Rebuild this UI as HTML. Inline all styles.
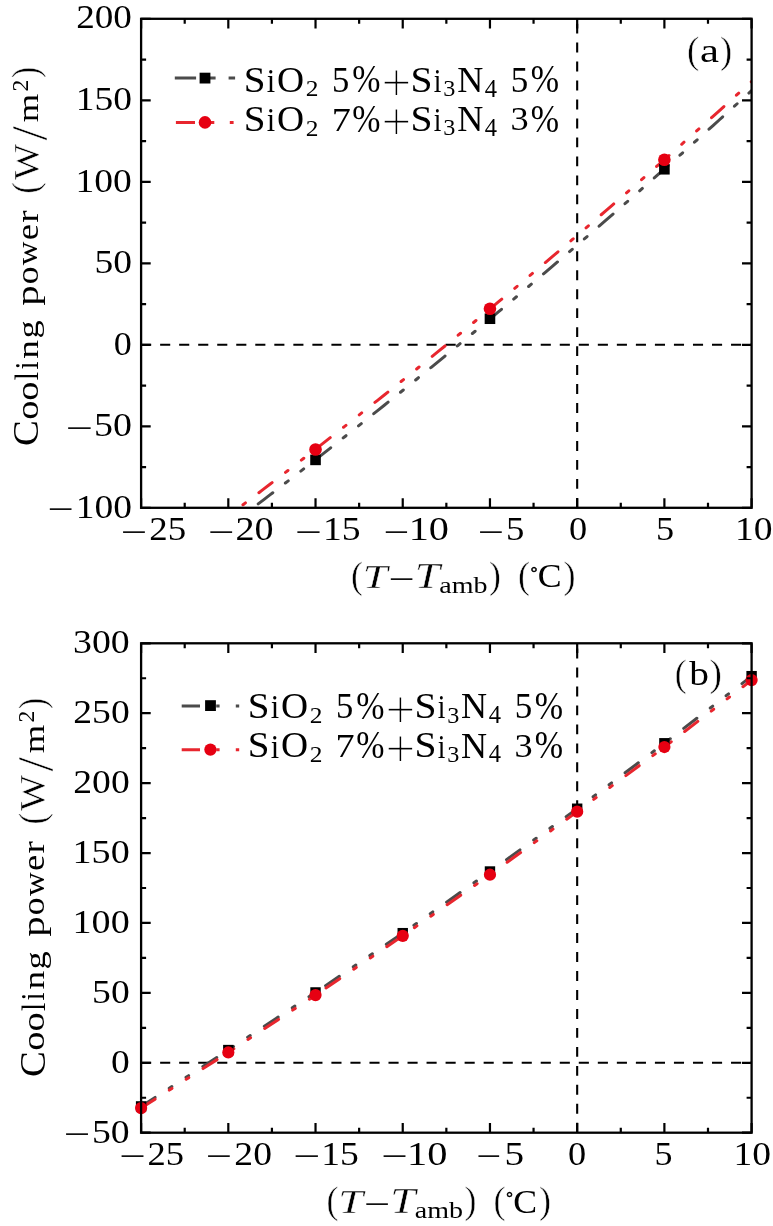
<!DOCTYPE html><html><head><meta charset="utf-8"><title>Cooling power vs T-Tamb</title><style>html,body{margin:0;padding:0;background:#fff;}svg{display:block;}text{white-space:pre;font-kerning:none;}</style></head><body>
<svg width="773" height="1226" viewBox="0 0 773 1226" font-family='"Liberation Serif", "DejaVu Serif", serif'>
<rect width="773" height="1226" fill="#fff"/>
<defs><clipPath id="ca"><rect x="141.1" y="18.8" width="610.50" height="489.00"/></clipPath></defs>
<path d="M141.1 344.80H751.6" stroke="#000" stroke-width="2.1" stroke-dasharray="10.1 8.93" fill="none"/><path d="M577.17 507.8V18.8" stroke="#000" stroke-width="2.1" stroke-dasharray="9.9 9.07" fill="none"/>
<g clip-path="url(#ca)" fill="none" stroke-width="3.0" stroke-linecap="round"><path d="M230.00 525.30L236.71 520.23L243.42 515.15L250.13 510.05L256.84 504.94L263.54 499.82L270.25 494.68L276.96 489.53L283.67 484.36L290.38 479.19L297.09 473.99L303.80 468.79L310.51 463.57L317.22 458.34L323.92 453.09L330.63 447.83L337.34 442.56L344.05 437.27L350.76 431.97L357.47 426.65L364.18 421.33L370.89 415.98L377.59 410.63L384.30 405.26L391.01 399.88L397.72 394.48L404.43 389.07L411.14 383.65L417.85 378.21L424.56 372.76L431.27 367.30L437.97 361.82L444.68 356.33L451.39 350.83L458.10 345.31L464.81 339.78L471.52 334.23L478.23 328.67L484.94 323.10L491.65 317.51L498.35 311.91L505.06 306.30L511.77 300.67L518.48 295.03L525.19 289.38L531.90 283.71L538.61 278.03L545.32 272.33L552.03 266.62L558.73 260.90L565.44 255.16L572.15 249.41L578.86 243.65L585.57 237.87L592.28 232.08L598.99 226.28L605.70 220.46L612.41 214.63L619.11 208.79L625.82 202.93L632.53 197.06L639.24 191.17L645.95 185.27L652.66 179.36L659.37 173.43L666.08 167.49L672.78 161.54L679.49 155.57L686.20 149.59L692.91 143.60L699.62 137.59L706.33 131.57L713.04 125.53L719.75 119.49L726.46 113.42L733.16 107.35L739.87 101.26L746.58 95.15L753.29 89.04L760.00 82.91" stroke="#4b4b4b" stroke-dasharray="18.4 15.9 3.6 15.9 3.6 15.9" stroke-dashoffset="37.91"/><path d="M230.00 514.55L236.71 509.50L243.42 504.44L250.13 499.36L256.84 494.27L263.54 489.16L270.25 484.05L276.96 478.91L283.67 473.77L290.38 468.61L297.09 463.44L303.80 458.25L310.51 453.05L317.22 447.84L323.92 442.61L330.63 437.37L337.34 432.12L344.05 426.85L350.76 421.57L357.47 416.28L364.18 410.97L370.89 405.65L377.59 400.31L384.30 394.96L391.01 389.60L397.72 384.23L404.43 378.84L411.14 373.44L417.85 368.02L424.56 362.59L431.27 357.15L437.97 351.69L444.68 346.22L451.39 340.74L458.10 335.24L464.81 329.73L471.52 324.20L478.23 318.66L484.94 313.11L491.65 307.55L498.35 301.97L505.06 296.38L511.77 290.77L518.48 285.15L525.19 279.52L531.90 273.87L538.61 268.21L545.32 262.54L552.03 256.85L558.73 251.15L565.44 245.44L572.15 239.71L578.86 233.97L585.57 228.21L592.28 222.45L598.99 216.66L605.70 210.87L612.41 205.06L619.11 199.24L625.82 193.40L632.53 187.55L639.24 181.69L645.95 175.81L652.66 169.92L659.37 164.02L666.08 158.10L672.78 152.17L679.49 146.23L686.20 140.27L692.91 134.30L699.62 128.31L706.33 122.31L713.04 116.30L719.75 110.28L726.46 104.24L733.16 98.18L739.87 92.12L746.58 86.04L753.29 79.94L760.00 73.84" stroke="#e8262e" stroke-dasharray="16.6 16.9 3.1 16.9 3.1 16.9" stroke-dashoffset="37.27"/></g>
<rect x="310.23" y="454.58" width="10.6" height="10.6" fill="#000"/>
<rect x="484.66" y="313.42" width="10.6" height="10.6" fill="#000"/>
<rect x="659.09" y="163.95" width="10.6" height="10.6" fill="#000"/>
<circle cx="315.53" cy="449.45" r="6.3" fill="#e60012"/>
<circle cx="489.96" cy="308.78" r="6.3" fill="#e60012"/>
<circle cx="664.39" cy="159.80" r="6.3" fill="#e60012"/>
<path d="M174.8 78.1H235.2" stroke="#4b4b4b" stroke-width="3" stroke-dasharray="21.3 13 6.5 13 6.5 13" fill="none"/>
<rect x="199.6" y="72.7" width="10.8" height="10.8" fill="#000"/>
<path d="M175.9 122.6H233.8" stroke="#e8262e" stroke-width="3" stroke-dasharray="19.1 15.5 3.8 15.5 3.8 15.5" fill="none"/>
<circle cx="205" cy="122.4" r="6.3" fill="#e60012"/>
<path d="M141.10 507.80L141.10 498.20M141.10 18.80L141.10 28.40M228.31 507.80L228.31 498.20M228.31 18.80L228.31 28.40M315.53 507.80L315.53 498.20M315.53 18.80L315.53 28.40M402.74 507.80L402.74 498.20M402.74 18.80L402.74 28.40M489.96 507.80L489.96 498.20M489.96 18.80L489.96 28.40M577.17 507.80L577.17 498.20M577.17 18.80L577.17 28.40M664.39 507.80L664.39 498.20M664.39 18.80L664.39 28.40M751.60 507.80L751.60 498.20M751.60 18.80L751.60 28.40M184.71 507.80L184.71 502.80M184.71 18.80L184.71 23.80M271.92 507.80L271.92 502.80M271.92 18.80L271.92 23.80M359.14 507.80L359.14 502.80M359.14 18.80L359.14 23.80M446.35 507.80L446.35 502.80M446.35 18.80L446.35 23.80M533.56 507.80L533.56 502.80M533.56 18.80L533.56 23.80M620.78 507.80L620.78 502.80M620.78 18.80L620.78 23.80M707.99 507.80L707.99 502.80M707.99 18.80L707.99 23.80M141.10 507.80L150.70 507.80M751.60 507.80L742.00 507.80M141.10 426.30L150.70 426.30M751.60 426.30L742.00 426.30M141.10 344.80L150.70 344.80M751.60 344.80L742.00 344.80M141.10 263.30L150.70 263.30M751.60 263.30L742.00 263.30M141.10 181.80L150.70 181.80M751.60 181.80L742.00 181.80M141.10 100.30L150.70 100.30M751.60 100.30L742.00 100.30M141.10 18.80L150.70 18.80M751.60 18.80L742.00 18.80M141.10 467.05L146.10 467.05M751.60 467.05L746.60 467.05M141.10 385.55L146.10 385.55M751.60 385.55L746.60 385.55M141.10 304.05L146.10 304.05M751.60 304.05L746.60 304.05M141.10 222.55L146.10 222.55M751.60 222.55L746.60 222.55M141.10 141.05L146.10 141.05M751.60 141.05L746.60 141.05M141.10 59.55L146.10 59.55M751.60 59.55L746.60 59.55" stroke="#000" stroke-width="2.2" fill="none"/><rect x="141.1" y="18.8" width="610.50" height="489.00" fill="none" stroke="#000" stroke-width="2.3"/>
<path d="M141.1 1062.79H751.6" stroke="#000" stroke-width="2.1" stroke-dasharray="10.1 8.93" fill="none"/><path d="M577.17 1132.7V643.3" stroke="#000" stroke-width="2.1" stroke-dasharray="9.9 9.07" fill="none"/>
<g fill="none" stroke-width="3.0" stroke-linecap="round"><path d="M141.10 1106.41L228.31 1050.06L315.53 992.45L402.74 933.16L489.96 871.50L577.17 808.72L664.39 743.28L751.60 676.16" stroke="#4b4b4b" stroke-dasharray="16.6 16.9 3.1 16.9 3.1 16.9" stroke-dashoffset="0"/><path d="M141.10 1108.09L228.31 1052.44L315.53 995.11L402.74 935.82L489.96 874.72L577.17 811.65L664.39 747.05L751.60 680.07" stroke="#e8262e" stroke-dasharray="16.6 16.9 3.1 16.9 3.1 16.9" stroke-dashoffset="0"/></g>
<rect x="135.90" y="1101.21" width="10.4" height="10.4" fill="#000"/>
<rect x="223.11" y="1044.86" width="10.4" height="10.4" fill="#000"/>
<rect x="310.33" y="987.25" width="10.4" height="10.4" fill="#000"/>
<rect x="397.54" y="927.96" width="10.4" height="10.4" fill="#000"/>
<rect x="484.76" y="866.30" width="10.4" height="10.4" fill="#000"/>
<rect x="571.97" y="803.52" width="10.4" height="10.4" fill="#000"/>
<rect x="659.19" y="738.08" width="10.4" height="10.4" fill="#000"/>
<rect x="746.40" y="670.96" width="10.4" height="10.4" fill="#000"/>
<circle cx="141.10" cy="1108.09" r="6.1" fill="#e60012"/>
<circle cx="228.31" cy="1052.44" r="6.1" fill="#e60012"/>
<circle cx="315.53" cy="995.11" r="6.1" fill="#e60012"/>
<circle cx="402.74" cy="935.82" r="6.1" fill="#e60012"/>
<circle cx="489.96" cy="874.72" r="6.1" fill="#e60012"/>
<circle cx="577.17" cy="811.65" r="6.1" fill="#e60012"/>
<circle cx="664.39" cy="747.05" r="6.1" fill="#e60012"/>
<circle cx="751.60" cy="680.07" r="6.1" fill="#e60012"/>
<path d="M181.7 705.9H239.2" stroke="#4b4b4b" stroke-width="3" stroke-dasharray="18.3 16.2 3.4 16.2 3.4 16.2" fill="none"/>
<rect x="205.1" y="700.2" width="10.8" height="10.8" fill="#000"/>
<path d="M181.7 749.7H239.2" stroke="#e8262e" stroke-width="3" stroke-dasharray="18.3 16.2 3.4 16.2 3.4 16.2" fill="none"/>
<circle cx="210.4" cy="749.6" r="6.1" fill="#e60012"/>
<path d="M141.10 1132.70L141.10 1123.10M141.10 643.30L141.10 652.90M228.31 1132.70L228.31 1123.10M228.31 643.30L228.31 652.90M315.53 1132.70L315.53 1123.10M315.53 643.30L315.53 652.90M402.74 1132.70L402.74 1123.10M402.74 643.30L402.74 652.90M489.96 1132.70L489.96 1123.10M489.96 643.30L489.96 652.90M577.17 1132.70L577.17 1123.10M577.17 643.30L577.17 652.90M664.39 1132.70L664.39 1123.10M664.39 643.30L664.39 652.90M751.60 1132.70L751.60 1123.10M751.60 643.30L751.60 652.90M184.71 1132.70L184.71 1127.70M184.71 643.30L184.71 648.30M271.92 1132.70L271.92 1127.70M271.92 643.30L271.92 648.30M359.14 1132.70L359.14 1127.70M359.14 643.30L359.14 648.30M446.35 1132.70L446.35 1127.70M446.35 643.30L446.35 648.30M533.56 1132.70L533.56 1127.70M533.56 643.30L533.56 648.30M620.78 1132.70L620.78 1127.70M620.78 643.30L620.78 648.30M707.99 1132.70L707.99 1127.70M707.99 643.30L707.99 648.30M141.10 1132.70L150.70 1132.70M751.60 1132.70L742.00 1132.70M141.10 1062.79L150.70 1062.79M751.60 1062.79L742.00 1062.79M141.10 992.87L150.70 992.87M751.60 992.87L742.00 992.87M141.10 922.96L150.70 922.96M751.60 922.96L742.00 922.96M141.10 853.04L150.70 853.04M751.60 853.04L742.00 853.04M141.10 783.13L150.70 783.13M751.60 783.13L742.00 783.13M141.10 713.21L150.70 713.21M751.60 713.21L742.00 713.21M141.10 643.30L150.70 643.30M751.60 643.30L742.00 643.30M141.10 1097.74L146.10 1097.74M751.60 1097.74L746.60 1097.74M141.10 1027.83L146.10 1027.83M751.60 1027.83L746.60 1027.83M141.10 957.91L146.10 957.91M751.60 957.91L746.60 957.91M141.10 888.00L146.10 888.00M751.60 888.00L746.60 888.00M141.10 818.09L146.10 818.09M751.60 818.09L746.60 818.09M141.10 748.17L146.10 748.17M751.60 748.17L746.60 748.17M141.10 678.26L146.10 678.26M751.60 678.26L746.60 678.26" stroke="#000" stroke-width="2.2" fill="none"/><rect x="141.1" y="643.3" width="610.50" height="489.40" fill="none" stroke="#000" stroke-width="2.3"/>
<g fill="#000">
<text><tspan x="76.17" y="27.87" font-size="33.34" textLength="55.75" lengthAdjust="spacingAndGlyphs">200</tspan></text>
<text><tspan x="75.71" y="109.87" font-size="33.64" textLength="56.22" lengthAdjust="spacingAndGlyphs">150</tspan></text>
<text><tspan x="75.49" y="191.72" font-size="34.08" textLength="56.44" lengthAdjust="spacingAndGlyphs">100</tspan></text>
<text><tspan x="94.42" y="273.22" font-size="34.08" textLength="37.51" lengthAdjust="spacingAndGlyphs">50</tspan></text>
<text><tspan x="113.83" y="354.67" font-size="34.08" textLength="18.05" lengthAdjust="spacingAndGlyphs">0</tspan></text>
<text><tspan x="65.69" y="438.56" font-size="33.00" textLength="27.27" lengthAdjust="spacingAndGlyphs">−</tspan><tspan x="93.99" y="436.22" font-size="34.08" textLength="37.95" lengthAdjust="spacingAndGlyphs">50</tspan></text>
<text><tspan x="47.58" y="520.06" font-size="33.00" textLength="26.30" lengthAdjust="spacingAndGlyphs">−</tspan><tspan x="75.71" y="518.26" font-size="34.68" textLength="56.22" lengthAdjust="spacingAndGlyphs">100</tspan></text>
<text><tspan x="72.99" y="653.27" font-size="34.23" textLength="56.75" lengthAdjust="spacingAndGlyphs">300</tspan></text>
<text><tspan x="73.25" y="723.13" font-size="34.08" textLength="56.49" lengthAdjust="spacingAndGlyphs">250</tspan></text>
<text><tspan x="73.25" y="793.05" font-size="34.08" textLength="56.49" lengthAdjust="spacingAndGlyphs">200</tspan></text>
<text><tspan x="72.55" y="862.96" font-size="34.08" textLength="57.20" lengthAdjust="spacingAndGlyphs">150</tspan></text>
<text><tspan x="72.55" y="932.87" font-size="34.08" textLength="57.20" lengthAdjust="spacingAndGlyphs">100</tspan></text>
<text><tspan x="92.11" y="1002.79" font-size="34.08" textLength="37.62" lengthAdjust="spacingAndGlyphs">50</tspan></text>
<text><tspan x="110.97" y="1072.70" font-size="34.08" textLength="18.76" lengthAdjust="spacingAndGlyphs">0</tspan></text>
<text><tspan x="63.66" y="1144.96" font-size="33.00" textLength="26.54" lengthAdjust="spacingAndGlyphs">−</tspan><tspan x="92.01" y="1142.76" font-size="34.53" textLength="37.73" lengthAdjust="spacingAndGlyphs">50</tspan></text>
<text><tspan x="120.67" y="542.76" font-size="33.00" textLength="26.42" lengthAdjust="spacingAndGlyphs">−</tspan><tspan x="149.28" y="540.47" font-size="34.08" textLength="36.86" lengthAdjust="spacingAndGlyphs">25</tspan></text>
<text><tspan x="207.97" y="542.76" font-size="33.00" textLength="26.42" lengthAdjust="spacingAndGlyphs">−</tspan><tspan x="235.42" y="540.47" font-size="33.94" textLength="38.13" lengthAdjust="spacingAndGlyphs">20</tspan></text>
<text><tspan x="294.92" y="542.76" font-size="33.00" textLength="26.91" lengthAdjust="spacingAndGlyphs">−</tspan><tspan x="322.90" y="540.47" font-size="34.18" textLength="37.57" lengthAdjust="spacingAndGlyphs">15</tspan></text>
<text><tspan x="383.52" y="542.76" font-size="33.00" textLength="25.81" lengthAdjust="spacingAndGlyphs">−</tspan><tspan x="408.66" y="540.47" font-size="33.94" textLength="40.27" lengthAdjust="spacingAndGlyphs">10</tspan></text>
<text><tspan x="477.68" y="542.76" font-size="33.00" textLength="26.30" lengthAdjust="spacingAndGlyphs">−</tspan><tspan x="505.97" y="540.46" font-size="34.46" textLength="18.37" lengthAdjust="spacingAndGlyphs">5</tspan></text>
<text><tspan x="568.92" y="540.47" font-size="33.94" textLength="18.17" lengthAdjust="spacingAndGlyphs">0</tspan></text>
<text><tspan x="655.99" y="540.46" font-size="34.46" textLength="18.12" lengthAdjust="spacingAndGlyphs">5</tspan></text>
<text><tspan x="734.99" y="540.47" font-size="33.94" textLength="37.64" lengthAdjust="spacingAndGlyphs">10</tspan></text>
<text><tspan x="119.16" y="1167.26" font-size="33.00" textLength="26.54" lengthAdjust="spacingAndGlyphs">−</tspan><tspan x="147.59" y="1164.97" font-size="34.23" textLength="36.53" lengthAdjust="spacingAndGlyphs">25</tspan></text>
<text><tspan x="205.68" y="1167.26" font-size="33.00" textLength="26.30" lengthAdjust="spacingAndGlyphs">−</tspan><tspan x="234.35" y="1164.97" font-size="34.08" textLength="37.58" lengthAdjust="spacingAndGlyphs">20</tspan></text>
<text><tspan x="293.31" y="1167.26" font-size="33.00" textLength="27.03" lengthAdjust="spacingAndGlyphs">−</tspan><tspan x="321.30" y="1164.96" font-size="34.33" textLength="37.57" lengthAdjust="spacingAndGlyphs">15</tspan></text>
<text><tspan x="381.26" y="1167.26" font-size="33.00" textLength="26.54" lengthAdjust="spacingAndGlyphs">−</tspan><tspan x="407.05" y="1164.97" font-size="34.08" textLength="40.39" lengthAdjust="spacingAndGlyphs">10</tspan></text>
<text><tspan x="476.18" y="1167.26" font-size="33.00" textLength="25.09" lengthAdjust="spacingAndGlyphs">−</tspan><tspan x="504.52" y="1164.96" font-size="34.61" textLength="19.61" lengthAdjust="spacingAndGlyphs">5</tspan></text>
<text><tspan x="567.92" y="1164.97" font-size="34.08" textLength="18.17" lengthAdjust="spacingAndGlyphs">0</tspan></text>
<text><tspan x="654.51" y="1164.96" font-size="34.61" textLength="18.00" lengthAdjust="spacingAndGlyphs">5</tspan></text>
<text><tspan x="733.60" y="1164.97" font-size="34.08" textLength="37.53" lengthAdjust="spacingAndGlyphs">10</tspan></text>
<text><tspan x="351.08" y="587.87" font-size="37.50" textLength="11.93" lengthAdjust="spacingAndGlyphs" stroke="#fff" stroke-width="0.5">(</tspan><tspan x="362.88" y="587.60" font-size="34.52" textLength="24.78" lengthAdjust="spacingAndGlyphs" font-style="italic" stroke="#fff" stroke-width="0.4">T</tspan><tspan x="388.59" y="589.86" font-size="33.00" textLength="26.18" lengthAdjust="spacingAndGlyphs">−</tspan><tspan x="414.84" y="587.60" font-size="34.97" textLength="25.19" lengthAdjust="spacingAndGlyphs" font-style="italic" stroke="#fff" stroke-width="0.4">T</tspan><tspan x="439.21" y="592.57" font-size="23.59" textLength="48.25" lengthAdjust="spacingAndGlyphs">amb</tspan><tspan x="489.10" y="587.97" font-size="37.50" textLength="11.93" lengthAdjust="spacingAndGlyphs" stroke="#fff" stroke-width="0.5">)</tspan><tspan> </tspan><tspan x="517.96" y="588.09" font-size="37.39" textLength="12.06" lengthAdjust="spacingAndGlyphs" stroke="#fff" stroke-width="0.5">(</tspan><tspan x="530.71" y="577.53" font-size="15.83" textLength="6.59" lengthAdjust="spacingAndGlyphs" stroke="#000" stroke-width="0.6">°</tspan><tspan x="537.73" y="587.26" font-size="34.68" textLength="23.84" lengthAdjust="spacingAndGlyphs">C</tspan><tspan x="563.48" y="588.09" font-size="37.39" textLength="12.06" lengthAdjust="spacingAndGlyphs" stroke="#fff" stroke-width="0.5">)</tspan></text>
<text><tspan x="326.58" y="1213.27" font-size="37.50" textLength="11.93" lengthAdjust="spacingAndGlyphs" stroke="#fff" stroke-width="0.5">(</tspan><tspan x="338.38" y="1213.00" font-size="34.52" textLength="24.78" lengthAdjust="spacingAndGlyphs" font-style="italic" stroke="#fff" stroke-width="0.4">T</tspan><tspan x="364.09" y="1215.26" font-size="33.00" textLength="26.18" lengthAdjust="spacingAndGlyphs">−</tspan><tspan x="390.34" y="1213.00" font-size="34.97" textLength="25.19" lengthAdjust="spacingAndGlyphs" font-style="italic" stroke="#fff" stroke-width="0.4">T</tspan><tspan x="414.71" y="1217.97" font-size="23.59" textLength="48.25" lengthAdjust="spacingAndGlyphs">amb</tspan><tspan x="464.60" y="1213.37" font-size="37.50" textLength="11.93" lengthAdjust="spacingAndGlyphs" stroke="#fff" stroke-width="0.5">)</tspan><tspan> </tspan><tspan x="493.46" y="1213.49" font-size="37.39" textLength="12.06" lengthAdjust="spacingAndGlyphs" stroke="#fff" stroke-width="0.5">(</tspan><tspan x="506.21" y="1202.93" font-size="15.83" textLength="6.59" lengthAdjust="spacingAndGlyphs" stroke="#000" stroke-width="0.6">°</tspan><tspan x="513.23" y="1212.66" font-size="34.68" textLength="23.84" lengthAdjust="spacingAndGlyphs">C</tspan><tspan x="538.98" y="1213.49" font-size="37.39" textLength="12.06" lengthAdjust="spacingAndGlyphs" stroke="#fff" stroke-width="0.5">)</tspan></text>
<text transform="rotate(-90)"><tspan x="-446.09" y="38.24" font-size="36.47" textLength="25.82" lengthAdjust="spacingAndGlyphs">C</tspan><tspan x="-419.86" y="37.69" font-size="31.40" textLength="38.43" lengthAdjust="spacingAndGlyphs">oo</tspan><tspan x="-380.20" y="38.00" font-size="33.44" textLength="8.30" lengthAdjust="spacingAndGlyphs">l</tspan><tspan x="-369.51" y="37.60" font-size="33.53" textLength="8.06" lengthAdjust="spacingAndGlyphs">i</tspan><tspan x="-358.66" y="37.60" font-size="30.14" textLength="18.73" lengthAdjust="spacingAndGlyphs">n</tspan><tspan x="-338.56" y="38.42" font-size="30.04" textLength="18.15" lengthAdjust="spacingAndGlyphs">g</tspan><tspan> </tspan><tspan x="-305.76" y="37.87" font-size="31.14" textLength="20.46" lengthAdjust="spacingAndGlyphs">p</tspan><tspan x="-284.36" y="37.69" font-size="31.40" textLength="17.81" lengthAdjust="spacingAndGlyphs">o</tspan><tspan x="-265.23" y="37.40" font-size="30.29" textLength="23.78" lengthAdjust="spacingAndGlyphs">w</tspan><tspan x="-240.22" y="37.70" font-size="31.19" textLength="16.19" lengthAdjust="spacingAndGlyphs">e</tspan><tspan x="-222.74" y="37.70" font-size="31.20" textLength="12.37" lengthAdjust="spacingAndGlyphs">r</tspan><tspan> </tspan><tspan x="-193.67" y="38.48" font-size="36.95" textLength="11.54" lengthAdjust="spacingAndGlyphs" stroke="#fff" stroke-width="0.5">(</tspan><tspan x="-180.09" y="38.51" font-size="35.83" textLength="36.21" lengthAdjust="spacingAndGlyphs" stroke="#fff" stroke-width="0.5">W</tspan><tspan x="-140.50" y="45.91" font-size="50.23" textLength="14.50" lengthAdjust="spacingAndGlyphs" stroke="#fff" stroke-width="0.7">/</tspan><tspan x="-122.27" y="37.70" font-size="30.35" textLength="28.54" lengthAdjust="spacingAndGlyphs">m</tspan><tspan x="-91.64" y="27.80" font-size="23.41" textLength="11.85" lengthAdjust="spacingAndGlyphs">2</tspan><tspan x="-78.03" y="38.48" font-size="36.95" textLength="11.15" lengthAdjust="spacingAndGlyphs" stroke="#fff" stroke-width="0.5">)</tspan></text>
<text transform="rotate(-90)"><tspan x="-1076.99" y="44.74" font-size="36.47" textLength="25.82" lengthAdjust="spacingAndGlyphs">C</tspan><tspan x="-1050.76" y="44.19" font-size="31.40" textLength="38.43" lengthAdjust="spacingAndGlyphs">oo</tspan><tspan x="-1011.10" y="44.50" font-size="33.44" textLength="8.30" lengthAdjust="spacingAndGlyphs">l</tspan><tspan x="-1000.41" y="44.10" font-size="33.53" textLength="8.06" lengthAdjust="spacingAndGlyphs">i</tspan><tspan x="-989.56" y="44.10" font-size="30.14" textLength="18.73" lengthAdjust="spacingAndGlyphs">n</tspan><tspan x="-969.46" y="44.92" font-size="30.04" textLength="18.15" lengthAdjust="spacingAndGlyphs">g</tspan><tspan> </tspan><tspan x="-936.66" y="44.37" font-size="31.14" textLength="20.46" lengthAdjust="spacingAndGlyphs">p</tspan><tspan x="-915.26" y="44.19" font-size="31.40" textLength="17.81" lengthAdjust="spacingAndGlyphs">o</tspan><tspan x="-896.13" y="43.90" font-size="30.29" textLength="23.78" lengthAdjust="spacingAndGlyphs">w</tspan><tspan x="-871.12" y="44.20" font-size="31.19" textLength="16.19" lengthAdjust="spacingAndGlyphs">e</tspan><tspan x="-853.64" y="44.20" font-size="31.20" textLength="12.37" lengthAdjust="spacingAndGlyphs">r</tspan><tspan> </tspan><tspan x="-824.57" y="44.98" font-size="36.95" textLength="11.54" lengthAdjust="spacingAndGlyphs" stroke="#fff" stroke-width="0.5">(</tspan><tspan x="-810.99" y="45.01" font-size="35.83" textLength="36.21" lengthAdjust="spacingAndGlyphs" stroke="#fff" stroke-width="0.5">W</tspan><tspan x="-771.40" y="52.41" font-size="50.23" textLength="14.50" lengthAdjust="spacingAndGlyphs" stroke="#fff" stroke-width="0.7">/</tspan><tspan x="-753.17" y="44.20" font-size="30.35" textLength="28.54" lengthAdjust="spacingAndGlyphs">m</tspan><tspan x="-722.54" y="34.30" font-size="23.41" textLength="11.85" lengthAdjust="spacingAndGlyphs">2</tspan><tspan x="-708.93" y="44.98" font-size="36.95" textLength="11.15" lengthAdjust="spacingAndGlyphs" stroke="#fff" stroke-width="0.5">)</tspan></text>
<text><tspan x="243.79" y="91.65" font-size="36.02" textLength="21.74" lengthAdjust="spacingAndGlyphs">S</tspan><tspan x="266.76" y="91.80" font-size="34.59" textLength="8.41" lengthAdjust="spacingAndGlyphs">i</tspan><tspan x="277.06" y="91.65" font-size="36.02" textLength="27.08" lengthAdjust="spacingAndGlyphs">O</tspan><tspan x="305.78" y="96.30" font-size="23.11" textLength="12.72" lengthAdjust="spacingAndGlyphs">2</tspan><tspan> </tspan><tspan x="332.10" y="91.66" font-size="34.76" textLength="17.25" lengthAdjust="spacingAndGlyphs">5</tspan><tspan x="352.24" y="92.48" font-size="39.52" textLength="28.22" lengthAdjust="spacingAndGlyphs">%</tspan><tspan x="381.62" y="101.28" font-size="54.74" textLength="29.81" lengthAdjust="spacingAndGlyphs" stroke="#fff" stroke-width="1.1">+</tspan><tspan x="410.55" y="91.65" font-size="36.02" textLength="22.00" lengthAdjust="spacingAndGlyphs">S</tspan><tspan x="433.83" y="91.80" font-size="34.59" textLength="7.59" lengthAdjust="spacingAndGlyphs">i</tspan><tspan x="443.34" y="96.27" font-size="23.07" textLength="12.10" lengthAdjust="spacingAndGlyphs">3</tspan><tspan x="457.16" y="91.70" font-size="35.43" textLength="26.07" lengthAdjust="spacingAndGlyphs">N</tspan><tspan x="484.82" y="96.50" font-size="24.16" textLength="12.26" lengthAdjust="spacingAndGlyphs">4</tspan><tspan> </tspan><tspan x="510.77" y="91.66" font-size="34.76" textLength="17.50" lengthAdjust="spacingAndGlyphs">5</tspan><tspan x="530.84" y="92.48" font-size="39.52" textLength="28.32" lengthAdjust="spacingAndGlyphs">%</tspan></text>
<text><tspan x="243.79" y="130.85" font-size="36.02" textLength="21.74" lengthAdjust="spacingAndGlyphs">S</tspan><tspan x="266.76" y="131.00" font-size="34.59" textLength="8.41" lengthAdjust="spacingAndGlyphs">i</tspan><tspan x="277.06" y="130.85" font-size="36.02" textLength="27.08" lengthAdjust="spacingAndGlyphs">O</tspan><tspan x="305.78" y="135.50" font-size="23.11" textLength="12.72" lengthAdjust="spacingAndGlyphs">2</tspan><tspan> </tspan><tspan x="331.68" y="130.70" font-size="34.36" textLength="19.12" lengthAdjust="spacingAndGlyphs">7</tspan><tspan x="352.24" y="131.68" font-size="39.52" textLength="28.22" lengthAdjust="spacingAndGlyphs">%</tspan><tspan x="381.62" y="140.48" font-size="54.74" textLength="29.81" lengthAdjust="spacingAndGlyphs" stroke="#fff" stroke-width="1.1">+</tspan><tspan x="410.55" y="130.85" font-size="36.02" textLength="22.00" lengthAdjust="spacingAndGlyphs">S</tspan><tspan x="433.83" y="131.00" font-size="34.59" textLength="7.59" lengthAdjust="spacingAndGlyphs">i</tspan><tspan x="443.34" y="135.47" font-size="23.07" textLength="12.10" lengthAdjust="spacingAndGlyphs">3</tspan><tspan x="457.16" y="130.90" font-size="35.43" textLength="26.07" lengthAdjust="spacingAndGlyphs">N</tspan><tspan x="484.82" y="135.70" font-size="24.16" textLength="12.26" lengthAdjust="spacingAndGlyphs">4</tspan><tspan> </tspan><tspan x="510.56" y="130.37" font-size="34.08" textLength="18.16" lengthAdjust="spacingAndGlyphs">3</tspan><tspan x="530.84" y="131.68" font-size="39.52" textLength="28.32" lengthAdjust="spacingAndGlyphs">%</tspan></text>
<text><tspan x="247.69" y="718.25" font-size="36.02" textLength="21.74" lengthAdjust="spacingAndGlyphs">S</tspan><tspan x="270.66" y="718.40" font-size="34.59" textLength="8.41" lengthAdjust="spacingAndGlyphs">i</tspan><tspan x="280.96" y="718.25" font-size="36.02" textLength="27.08" lengthAdjust="spacingAndGlyphs">O</tspan><tspan x="309.68" y="722.90" font-size="23.11" textLength="12.72" lengthAdjust="spacingAndGlyphs">2</tspan><tspan> </tspan><tspan x="336.00" y="718.26" font-size="34.76" textLength="17.25" lengthAdjust="spacingAndGlyphs">5</tspan><tspan x="356.14" y="719.08" font-size="39.52" textLength="28.22" lengthAdjust="spacingAndGlyphs">%</tspan><tspan x="385.52" y="727.88" font-size="54.74" textLength="29.81" lengthAdjust="spacingAndGlyphs" stroke="#fff" stroke-width="1.1">+</tspan><tspan x="414.45" y="718.25" font-size="36.02" textLength="22.00" lengthAdjust="spacingAndGlyphs">S</tspan><tspan x="437.73" y="718.40" font-size="34.59" textLength="7.59" lengthAdjust="spacingAndGlyphs">i</tspan><tspan x="447.24" y="722.87" font-size="23.07" textLength="12.10" lengthAdjust="spacingAndGlyphs">3</tspan><tspan x="461.06" y="718.30" font-size="35.43" textLength="26.07" lengthAdjust="spacingAndGlyphs">N</tspan><tspan x="488.72" y="723.10" font-size="24.16" textLength="12.26" lengthAdjust="spacingAndGlyphs">4</tspan><tspan> </tspan><tspan x="514.67" y="718.26" font-size="34.76" textLength="17.50" lengthAdjust="spacingAndGlyphs">5</tspan><tspan x="534.74" y="719.08" font-size="39.52" textLength="28.32" lengthAdjust="spacingAndGlyphs">%</tspan></text>
<text><tspan x="247.69" y="757.45" font-size="36.02" textLength="21.74" lengthAdjust="spacingAndGlyphs">S</tspan><tspan x="270.66" y="757.60" font-size="34.59" textLength="8.41" lengthAdjust="spacingAndGlyphs">i</tspan><tspan x="280.96" y="757.45" font-size="36.02" textLength="27.08" lengthAdjust="spacingAndGlyphs">O</tspan><tspan x="309.68" y="762.10" font-size="23.11" textLength="12.72" lengthAdjust="spacingAndGlyphs">2</tspan><tspan> </tspan><tspan x="335.58" y="757.30" font-size="34.36" textLength="19.12" lengthAdjust="spacingAndGlyphs">7</tspan><tspan x="356.14" y="758.28" font-size="39.52" textLength="28.22" lengthAdjust="spacingAndGlyphs">%</tspan><tspan x="385.52" y="767.08" font-size="54.74" textLength="29.81" lengthAdjust="spacingAndGlyphs" stroke="#fff" stroke-width="1.1">+</tspan><tspan x="414.45" y="757.45" font-size="36.02" textLength="22.00" lengthAdjust="spacingAndGlyphs">S</tspan><tspan x="437.73" y="757.60" font-size="34.59" textLength="7.59" lengthAdjust="spacingAndGlyphs">i</tspan><tspan x="447.24" y="762.07" font-size="23.07" textLength="12.10" lengthAdjust="spacingAndGlyphs">3</tspan><tspan x="461.06" y="757.50" font-size="35.43" textLength="26.07" lengthAdjust="spacingAndGlyphs">N</tspan><tspan x="488.72" y="762.30" font-size="24.16" textLength="12.26" lengthAdjust="spacingAndGlyphs">4</tspan><tspan> </tspan><tspan x="514.46" y="756.97" font-size="34.08" textLength="18.16" lengthAdjust="spacingAndGlyphs">3</tspan><tspan x="534.74" y="758.28" font-size="39.52" textLength="28.32" lengthAdjust="spacingAndGlyphs">%</tspan></text>
<text><tspan x="686.92" y="63.06" font-size="37.06" textLength="12.32" lengthAdjust="spacingAndGlyphs" stroke="#fff" stroke-width="0.5">(</tspan><tspan x="700.10" y="62.28" font-size="32.78" textLength="18.99" lengthAdjust="spacingAndGlyphs">a</tspan><tspan x="719.97" y="63.06" font-size="37.06" textLength="12.19" lengthAdjust="spacingAndGlyphs" stroke="#fff" stroke-width="0.5">)</tspan></text>
<text><tspan x="674.68" y="686.24" font-size="37.17" textLength="11.93" lengthAdjust="spacingAndGlyphs" stroke="#fff" stroke-width="0.5">(</tspan><tspan x="689.20" y="685.48" font-size="32.83" textLength="19.70" lengthAdjust="spacingAndGlyphs">b</tspan><tspan x="709.45" y="686.24" font-size="37.17" textLength="12.45" lengthAdjust="spacingAndGlyphs" stroke="#fff" stroke-width="0.5">)</tspan></text>
</g>
</svg></body></html>
